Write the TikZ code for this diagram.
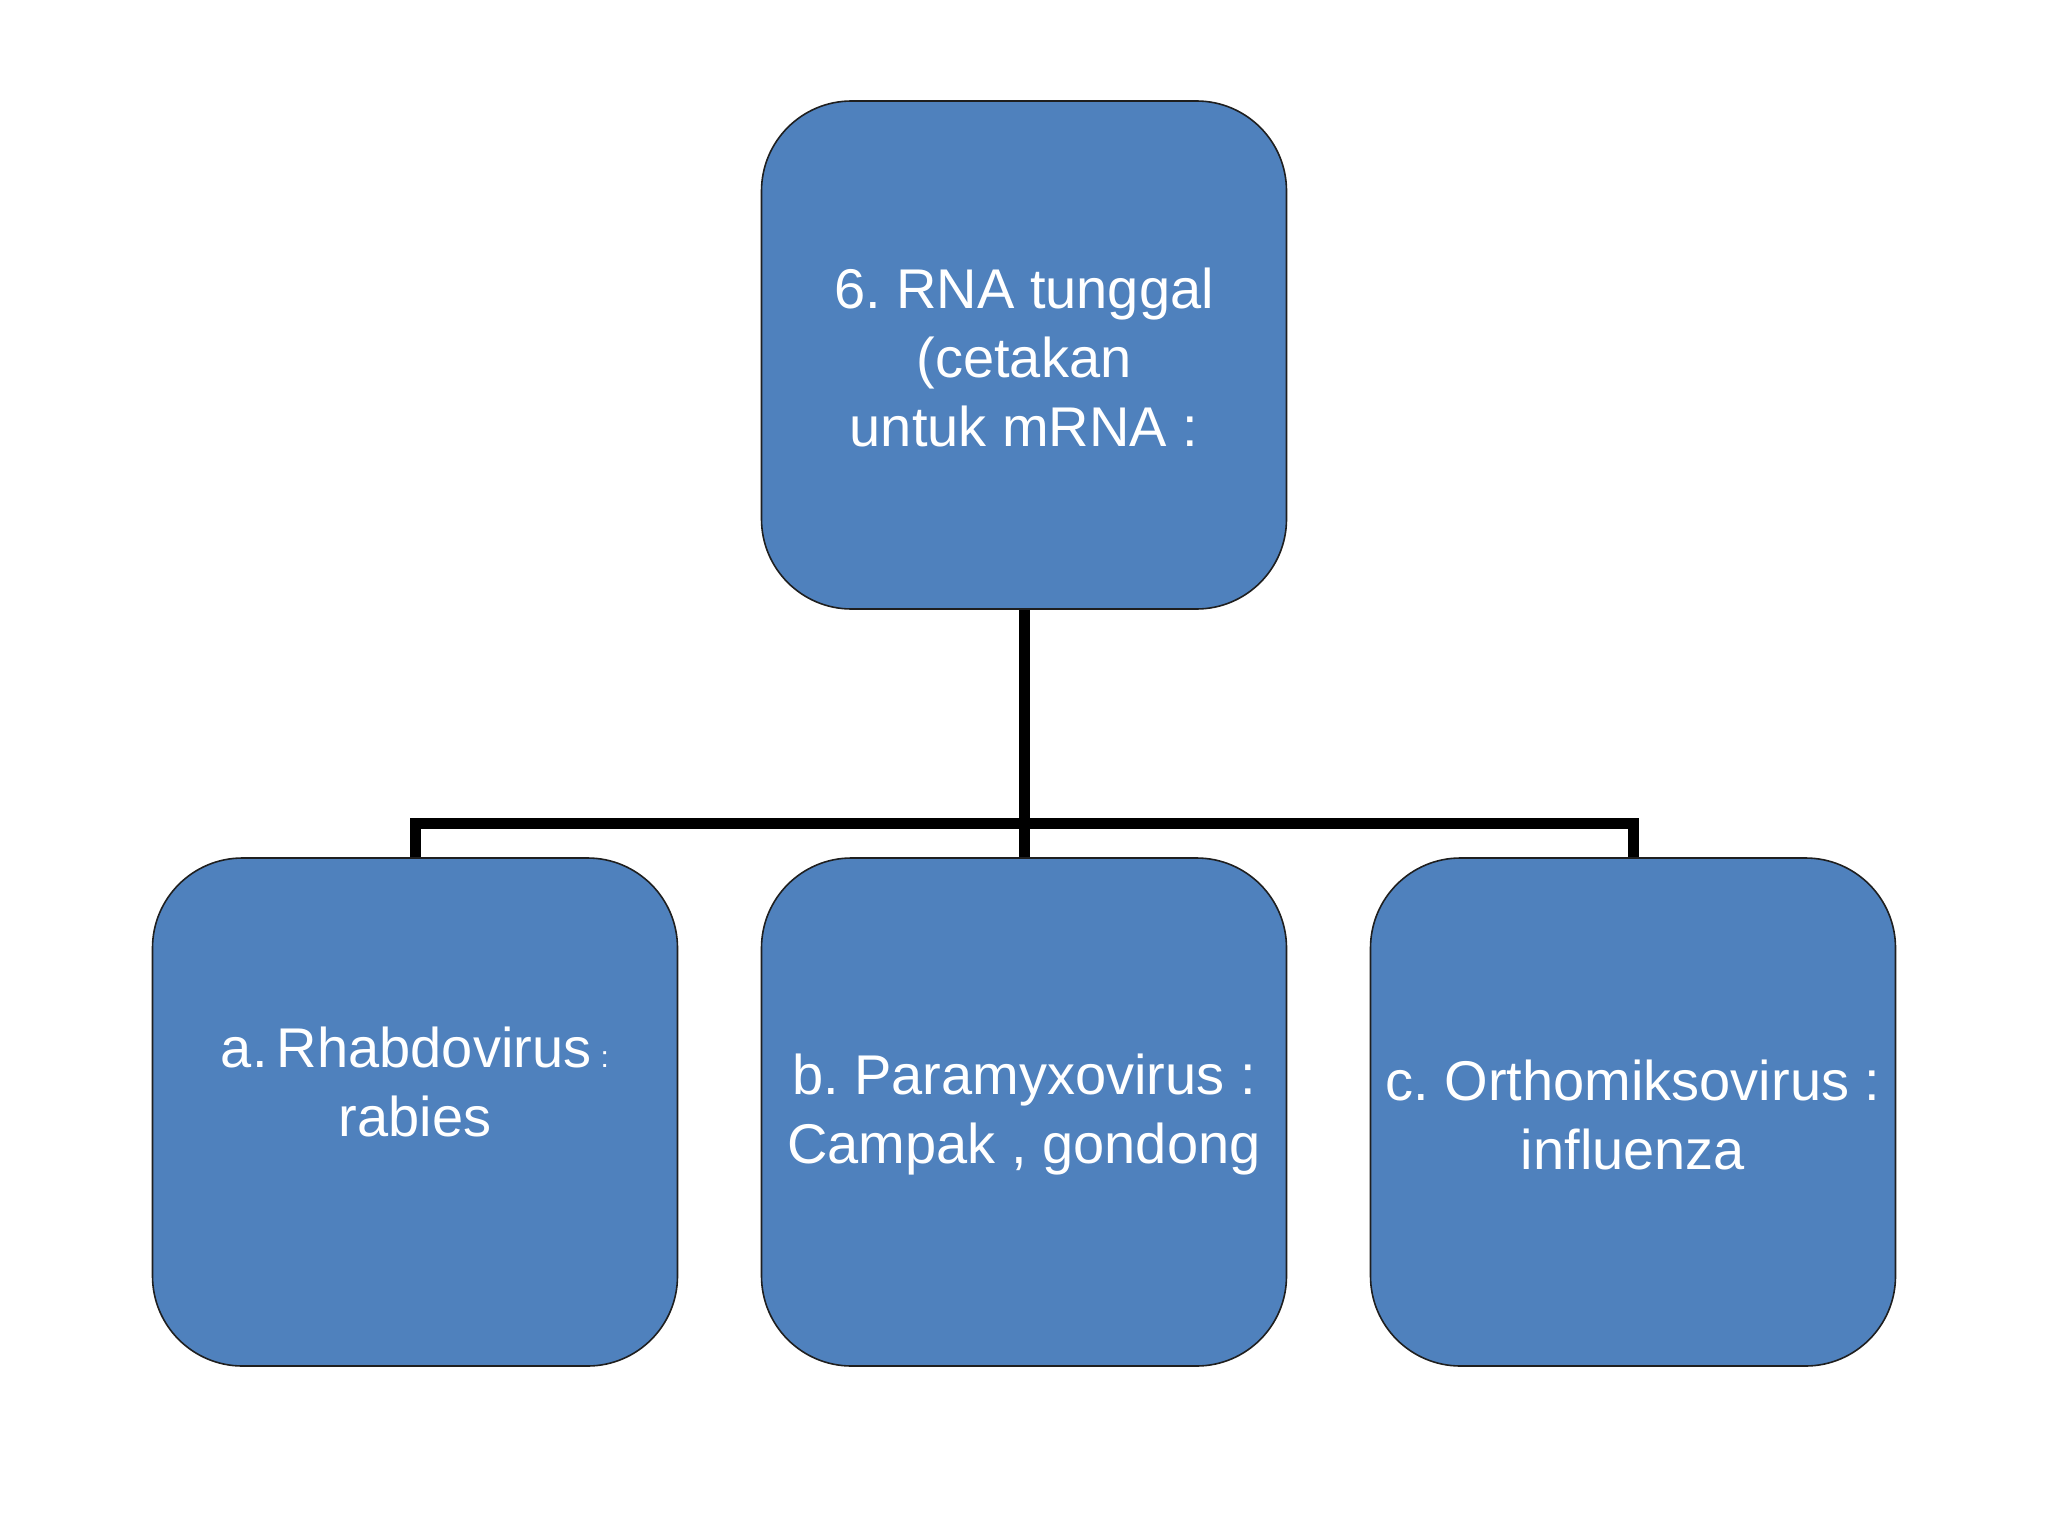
\documentclass[tikz,border=0pt]{standalone}
\usepackage{fontspec}
\setmainfont{Liberation Sans}
\frenchspacing
\definecolor{boxblue}{HTML}{4F81BD}
\definecolor{edgecol}{HTML}{1F1F1F}
\begin{document}
\begin{tikzpicture}[x=1pt,y=-1pt,
  vbox/.style={draw=edgecol,line width=1.6pt,fill=boxblue,rounded corners=90pt,
    minimum width=525pt,minimum height=508pt,inner sep=0pt,text=white,
    align=center,font=\fontsize{56}{69}\selectfont},
  vlab/.style={align=center,text=white,inner sep=0pt,font=\fontsize{56}{69}\selectfont},
  conn/.style={draw=black,line width=11pt,line join=miter}]
\useasboundingbox (0,0) rectangle (2048,1536);
\coordinate (j) at (1024,823);
\node[vbox] (top) at (1024,355) {};
\node[vbox] (a) at (415,1112) {};
\node[vbox] (b) at (1024,1112) {};
\node[vbox] (c) at (1633,1112) {};
\draw[conn] (top.south) -- ([yshift=-5.5pt]j);
\draw[conn] (a.north) |- (j);
\draw[conn] (c.north) |- (j);
\draw[conn] (b.north) -- (j);
\node[vlab] (toplab) at (1024,357) {6. RNA tunggal\\(cetakan\\untuk mRNA :};
\node[vlab] (alab) at (415,1082) {a.\,Rhabdovirus\,{\fontsize{30}{30}\selectfont:}\\rabies};
\node[vlab] (blab) at (1024,1115) {b. Paramyxovirus :\\Campak , gondong};
\node[vlab] (clab) at (1633,1115) {c. Orthomiksovirus :\\influenza};
\end{tikzpicture}
\end{document}
